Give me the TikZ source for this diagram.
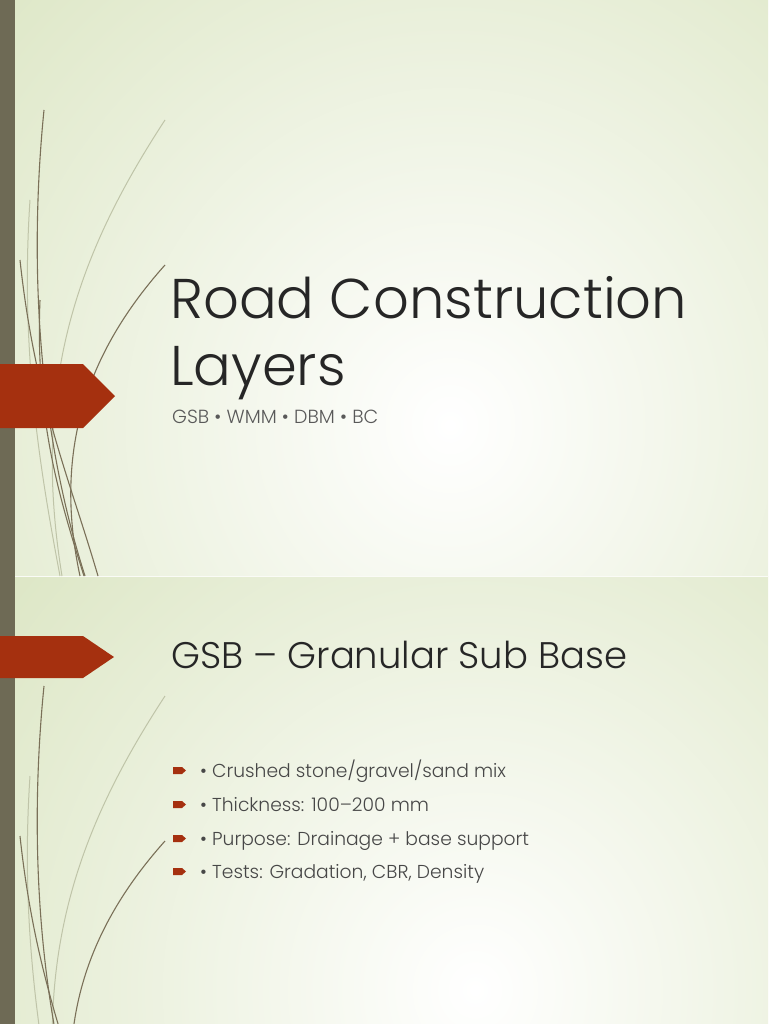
\documentclass[tikz,border=0pt]{standalone}
\usepackage{fontspec}
\setmainfont{Poppins Light}
\newfontfamily\bodyf{Poppins}
\definecolor{bgout}{HTML}{DCE6C4}
\definecolor{bar}{HTML}{6E6A55}
\definecolor{tab}{HTML}{A5300F}
\definecolor{curv}{HTML}{7A7058}
\definecolor{curvl}{HTML}{BFC4A8}
\definecolor{txt}{HTML}{262626}
\definecolor{subt}{HTML}{595959}
\tikzset{tabshape/.style={fill=tab,draw=none},
 curve/.style={draw=curv,line width=1.1pt},
 lcurve/.style={draw=curvl,line width=1pt},
 bul/.style={fill=tab,draw=none}}
\begin{document}
\begin{tikzpicture}[x=1pt,y=-1pt]
\useasboundingbox (0,0) rectangle (768,1024);
\begin{scope}
\clip (0,0) rectangle (768,576);
\shade[inner color=white,outer color=bgout] (-200,-250) rectangle (1100,1100);
\end{scope}
\begin{scope}
\clip (0,576) rectangle (768,1024);
\shade[inner color=white,outer color=bgout] (-150,330) rectangle (1100,1650);
\end{scope}
\draw[draw=white!85!bgout,line width=0.6pt] (15,576) -- (768,576);
\begin{scope}
\clip (15,0) rectangle (768,576);
\draw[lcurve] (165,120) .. controls (80,250) and (30,380) .. (62,576);
\draw[lcurve] (30,200) .. controls (20,350) and (40,470) .. (60,576);
\draw[curve] (44,110) .. controls (30,250) and (35,420) .. (85,576);
\draw[curve] (20,260) .. controls (35,400) and (70,480) .. (98,576);
\draw[curve] (165,265) .. controls (80,360) and (55,460) .. (80,576);
\draw[curve] (40,300) .. controls (35,420) and (60,500) .. (84,576);
\end{scope}
\begin{scope}
\clip (15,576) rectangle (768,1024);
\draw[lcurve] (165,696) .. controls (80,826) and (30,956) .. (62,1152);
\draw[lcurve] (30,776) .. controls (20,926) and (40,1046) .. (60,1152);
\draw[curve] (44,686) .. controls (30,826) and (35,996) .. (85,1152);
\draw[curve] (20,836) .. controls (35,976) and (70,1056) .. (98,1152);
\draw[curve] (165,841) .. controls (80,936) and (55,1036) .. (80,1152);
\end{scope}
\fill[bar] (0,0) rectangle (15,1024);
\path[tabshape] (0,364) -- (83,364) -- (115,396) -- (83,428) -- (0,428) -- cycle;
\path[tabshape] (0,636) -- (83,636) -- (114,657) -- (83,678) -- (0,678) -- cycle;
\node[anchor=base west,inner sep=0,text=txt,font=\fontsize{56}{60}\selectfont] (title) at (170,318) {Road Construction};
\node[anchor=base west,inner sep=0,text=txt,font=\fontsize{56}{60}\selectfont] (title2) at (170,385) {Layers};
\node[anchor=base west,inner sep=0,text=subt,font=\fontsize{19}{22}\selectfont] (sub) at (172,423) {GSB • WMM • DBM • BC};
\node[anchor=base west,inner sep=0,text=txt,font=\fontsize{37}{40}\selectfont] (h2) at (171,668) {GSB – Granular Sub Base};
\foreach \y/\t [count=\i] in {777/{• Crushed stone/gravel/sand mix},811/{• Thickness: 100–200 mm},845/{• Purpose: Drainage + base support},878/{• Tests: Gradation, CBR, Density}}{
 \node[anchor=base west,inner sep=0,text=subt!80!black,font=\fontsize{18.7}{22}\selectfont] (b\i) at (200,\y) {\t};
 \path[bul] (173,\y-10) -- (182,\y-10) -- (186,\y-6.5) -- (182,\y-3) -- (173,\y-3) -- cycle;
}
\end{tikzpicture}
\end{document}
